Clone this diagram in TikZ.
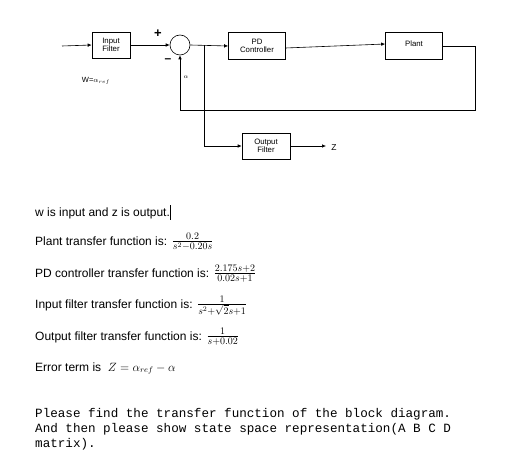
\documentclass[tikz,border=0pt]{standalone}
\usepackage{fontspec}
\newfontfamily\arialfont{Liberation Sans}
\newfontfamily\courfont{Liberation Mono}
\usetikzlibrary{arrows.meta}
\newcommand{\tfrac}[2]{{\fontsize{14}{14}\selectfont$\frac{#1}{#2}$}}
\tikzset{
  block/.style={draw, line width=0.6pt, minimum width=38pt, minimum height=26pt,
    inner sep=1pt, align=center, font=\arialfont\fontsize{7.8}{8.6}\selectfont},
  sumjunction/.style={draw, circle, line width=0.6pt, minimum size=20pt, inner sep=0pt},
  sig/.style={line width=0.6pt, -{Latex[length=4pt,width=3.5pt]}},
  wire/.style={line width=0.6pt},
  txt/.style={anchor=base west, inner sep=0pt, font=\arialfont\fontsize{12}{14}\selectfont},
  monotxt/.style={anchor=base west, inner sep=0pt, font=\courfont\fontsize{12.6}{15}\selectfont},
}
\begin{document}
\begin{tikzpicture}[x=1pt,y=-1pt]
  \useasboundingbox (0,0) rectangle (506,465);
  % block diagram
  \coordinate (w) at (62,46);
  \node[block] (infilter) at (111,45) {Input\\Filter};
  \node[sumjunction] (sum) at (180,45) {};
  \node[block, minimum width=57pt, minimum height=27pt] (pd) at (257,46) {PD\\Controller};
  \node[block, minimum width=57pt, minimum height=27pt] (plant) at (414,46) {\raisebox{5pt}{Plant}};
  \node[block, minimum width=48pt] (outfilter) at (266,146) {Output\\Filter};
  \coordinate (branch) at (204,45);
  \coordinate (z) at (326,146);
  \draw[sig] (w) -- (infilter.west);
  \draw[sig] (infilter.east) -- (sum.west);
  \draw[sig] (sum.east) -- (pd.west);
  \draw[sig] ([yshift=-2pt]pd.east) -- ([yshift=2pt]plant.west);
  \draw[wire] (plant.east) -- (475,46) -- (475,110) -- (180,110);
  \draw[sig] (180,110) -- (sum.south);
  \draw[sig] (branch) -- (204,146) -- (outfilter.west);
  \draw[sig] (outfilter.east) -- (z);
  \node[font=\arialfont\bfseries\fontsize{13}{13}\selectfont] at (158,34) {+};
  \node[font=\arialfont\bfseries\fontsize{12}{12}\selectfont] at (168,61) {\textendash};
  \node[font=\fontsize{6}{6}\selectfont] at (186,77) {$\alpha$};
  \node[font=\arialfont\fontsize{7.5}{8}\selectfont] at (96,81) {W=$\alpha_{ref}$};
  \node[font=\arialfont\fontsize{8.5}{8.5}\selectfont] at (334,148) {Z};
  % problem text
  \node[txt] (l1) at (35,217) {w is input and z is output.\rule[-3pt]{0.6pt}{15pt}};
  \node[txt] (l2) at (35,245) {Plant transfer function is: \tfrac{0.2}{s^2-0.20s}};
  \node[txt] (l3) at (35,277) {PD controller transfer function is: \tfrac{2.175s+2}{0.02s+1}};
  \node[txt] (l4) at (35,308) {Input filter transfer function is: \tfrac{1}{s^2+\sqrt{2}s+1}};
  \node[txt] (l5) at (35,340) {Output filter transfer function is: \tfrac{1}{s+0.02}};
  \node[txt] (l6) at (35,371) {Error term is \ $Z=\alpha_{ref}-\alpha$};
  \node[monotxt] (ask1) at (35,417) {Please find the transfer function of the block diagram.};
  \node[monotxt] (ask2) at (35,432) {And then please show state space representation(A B C D};
  \node[monotxt] (ask3) at (35,447) {matrix).};
\end{tikzpicture}
\end{document}
